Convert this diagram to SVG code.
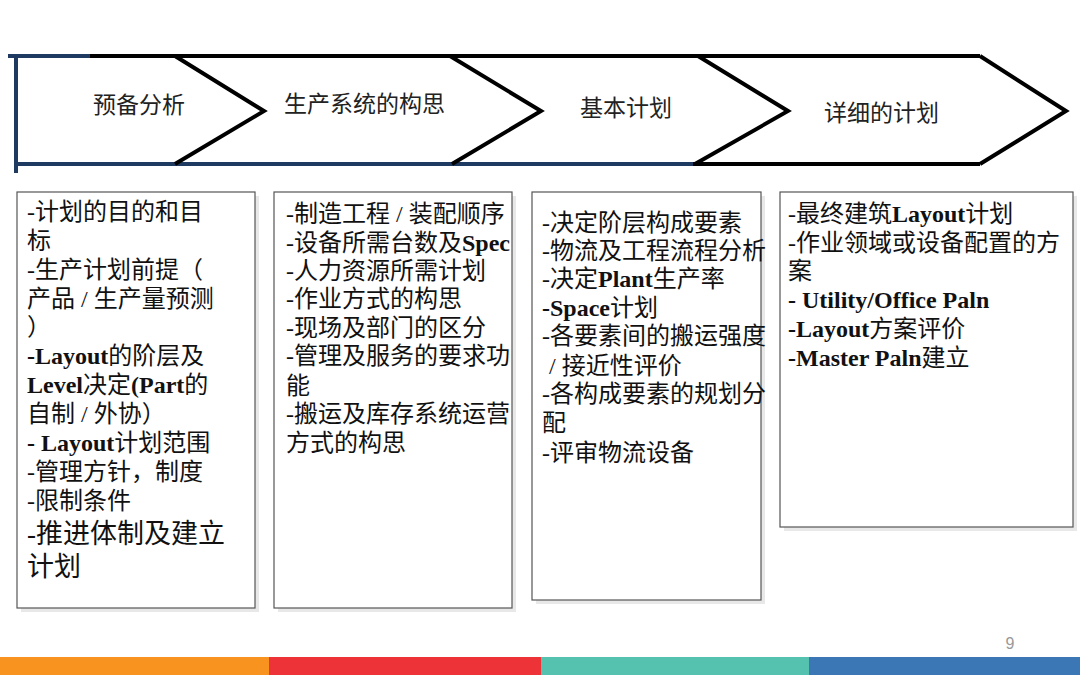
<svg xmlns="http://www.w3.org/2000/svg" width="1080" height="675" viewBox="0 0 1080 675">
<style>
.t{font-family:"Liberation Serif","Noto Sans CJK SC",serif;font-size:24px;fill:#111}
.h{font-family:"Liberation Serif","Noto Sans CJK SC",serif;font-size:23px;fill:#222}
.b{font-weight:bold}
.big{font-size:27px}
.box{fill:#fff;stroke:#555;stroke-width:1.2}
.sh{fill:#e8e8e8}
.blk{fill:none;stroke:#000;stroke-width:4;stroke-linejoin:miter}
.blu{fill:none;stroke:#1f3a60;stroke-width:4}
</style>
<rect width="1080" height="675" fill="#fff"/>
<g id="process-band">
<line class="blk" x1="88" y1="56" x2="980" y2="56"/>
<line class="blu" x1="8" y1="56" x2="90" y2="56"/>
<line class="blu" x1="16" y1="56" x2="16" y2="173"/>
<line class="blu" x1="16" y1="164" x2="695" y2="164"/>
<line class="blk" x1="693" y1="164" x2="980" y2="164"/>
<polyline class="blk" points="175,56 264,111 175,164"/>
<polyline class="blk" points="450,56 541,111 452,164"/>
<polyline class="blk" points="698,56 788,111 695,164"/>
<polyline class="blk" points="980,56 1066,111 980,164"/>
</g>
<g id="stage1-label"><text class="h" x="93" y="113">预备分析</text></g>
<g id="stage2-label"><text class="h" x="284" y="112">生产系统的构思</text></g>
<g id="stage3-label"><text class="h" x="580" y="116">基本计划</text></g>
<g id="stage4-label"><text class="h" x="824" y="121">详细的计划</text></g>
<g id="connectors"></g>
<g id="box1">
<rect class="sh" x="21" y="196" width="238" height="416"/>
<rect class="box" x="17" y="192" width="238" height="416"/>
<text class="t" x="27" y="220">-计划的目的和目</text>
<text class="t" x="27" y="249">标</text>
<text class="t" x="27" y="278">-生产计划前提（</text>
<text class="t" x="27" y="307">产品 / 生产量预测</text>
<text class="t" x="27" y="335">）</text>
<text class="t" x="27" y="364"><tspan class="b">-Layout</tspan>的阶层及</text>
<text class="t" x="27" y="393"><tspan class="b">Level</tspan>决定<tspan class="b">(Part</tspan>的</text>
<text class="t" x="27" y="422">自制 / 外协）</text>
<text class="t" x="27" y="451"><tspan class="b">- Layout</tspan>计划范围</text>
<text class="t" x="27" y="480">-管理方针，制度</text>
<text class="t" x="27" y="509">-限制条件</text>
<text class="t big" x="27" y="543">-推进体制及建立</text>
<text class="t big" x="27" y="576">计划</text>
</g>
<g id="box2">
<rect class="sh" x="278" y="196" width="238" height="416"/>
<rect class="box" x="274" y="192" width="238" height="416"/>
<text class="t" x="286" y="222">-制造工程 / 装配顺序</text>
<text class="t" x="286" y="251">-设备所需台数及<tspan class="b">Spec</tspan></text>
<text class="t" x="286" y="279">-人力资源所需计划</text>
<text class="t" x="286" y="307">-作业方式的构思</text>
<text class="t" x="286" y="336">-现场及部门的区分</text>
<text class="t" x="286" y="364">-管理及服务的要求功</text>
<text class="t" x="286" y="394">能</text>
<text class="t" x="286" y="422">-搬运及库存系统运营</text>
<text class="t" x="286" y="451">方式的构思</text>
</g>
<g id="box3">
<rect class="sh" x="536" y="196" width="229" height="408"/>
<rect class="box" x="532" y="192" width="229" height="408"/>
<text class="t" x="542" y="231">-决定阶层构成要素</text>
<text class="t" x="542" y="259">-物流及工程流程分析</text>
<text class="t" x="542" y="287">-决定<tspan class="b">Plant</tspan>生产率</text>
<text class="t" x="542" y="316"><tspan class="b">-Space</tspan>计划</text>
<text class="t" x="542" y="344">-各要素间的搬运强度</text>
<text class="t" x="549" y="374">/ 接近性评价</text>
<text class="t" x="542" y="402">-各构成要素的规划分</text>
<text class="t" x="542" y="431">配</text>
<text class="t" x="542" y="461">-评审物流设备</text>
</g>
<g id="box4">
<rect class="sh" x="784" y="196" width="293" height="335"/>
<rect class="box" x="780" y="192" width="293" height="335"/>
<text class="t" x="788" y="222">-最终建筑<tspan class="b">Layout</tspan>计划</text>
<text class="t" x="788" y="251">-作业领域或设备配置的方</text>
<text class="t" x="788" y="279">案</text>
<text class="t b" x="788" y="308">- Utility/Office Paln</text>
<text class="t" x="788" y="337"><tspan class="b">-Layout</tspan>方案评价</text>
<text class="t" x="788" y="366"><tspan class="b">-Master Paln</tspan>建立</text>
</g>
<g id="footer">
<text x="1010" y="649" font-family="Liberation Sans, sans-serif" font-size="16" fill="#999" text-anchor="middle">9</text>
<rect x="0" y="657" width="269" height="18" fill="#f7931e"/>
<rect x="269" y="657" width="272" height="18" fill="#ee3338"/>
<rect x="541" y="657" width="268" height="18" fill="#55c2b0"/>
<rect x="809" y="657" width="271" height="18" fill="#3a77b4"/>
</g>
</svg>
